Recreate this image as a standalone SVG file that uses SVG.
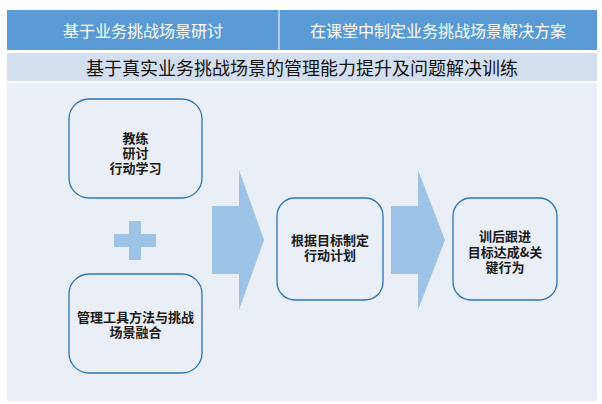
<svg xmlns="http://www.w3.org/2000/svg" width="602" height="404" viewBox="0 0 602 404">
<style>
.t{font-family:"Noto Sans CJK SC","Liberation Sans",sans-serif;}
.hd{font-size:16px;fill:#ffffff;text-anchor:middle;dominant-baseline:central;}
.sub{font-size:18px;fill:#111111;text-anchor:middle;dominant-baseline:central;}
.bx{fill:none;stroke:#2E75B6;stroke-width:1.3;}
.bt{font-size:13px;font-weight:bold;fill:#1a1a1a;text-anchor:middle;}
.ar{fill:#9DC3E6;}
</style>
<rect x="0" y="0" width="602" height="404" fill="#ffffff"/>
<g id="header">
<rect x="7" y="10" width="590" height="40" fill="#5B9BD5"/>
<line x1="279" y1="10" x2="279" y2="50" stroke="#ffffff" stroke-width="1"/>
<text class="t hd" x="143" y="30">基于业务挑战场景研讨</text>
<text class="t hd" x="438" y="30">在课堂中制定业务挑战场景解决方案</text>
</g>
<g id="subheader">
<rect x="7" y="53" width="590" height="28" fill="#D3DEEF"/>
<text class="t sub" x="302" y="67">基于真实业务挑战场景的管理能力提升及问题解决训练</text>
</g>
<rect x="7" y="83" width="590" height="318" fill="#E9EEF7"/>
<g id="connectors">
<path class="ar" d="M114,234 H129 V221 H141 V234 H156 V247 H141 V260 H129 V247 H114 Z"/>
<path class="ar" d="M212,206 H239 V170 L264,240 L239,310 V274 H212 Z"/>
<path class="ar" d="M391,206 H418 V170 L445,240 L418,310 V274 H391 Z"/>
</g>
<g id="node1">
<rect class="bx" x="69" y="99" width="133" height="99" rx="20"/>
<text class="t bt" x="135.5" y="143"><tspan x="135.5">教练</tspan><tspan x="135.5" dy="15">研讨</tspan><tspan x="135.5" dy="15">行动学习</tspan></text>
</g>
<g id="node2">
<rect class="bx" x="69" y="274" width="133" height="99" rx="20"/>
<text class="t bt" x="135.5" y="322"><tspan x="135.5">管理工具方法与挑战</tspan><tspan x="135.5" dy="15">场景融合</tspan></text>
</g>
<g id="node3">
<rect class="bx" x="277" y="198" width="106" height="102" rx="18"/>
<text class="t bt" x="330" y="245"><tspan x="330">根据目标制定</tspan><tspan x="330" dy="15">行动计划</tspan></text>
</g>
<g id="node4">
<rect class="bx" x="453" y="198" width="104" height="102" rx="18"/>
<text class="t bt" x="505" y="241"><tspan x="505">训后跟进</tspan><tspan x="505" dy="15.5">目标达成&amp;关</tspan><tspan x="505" dy="15.5">键行为</tspan></text>
</g>
</svg>
